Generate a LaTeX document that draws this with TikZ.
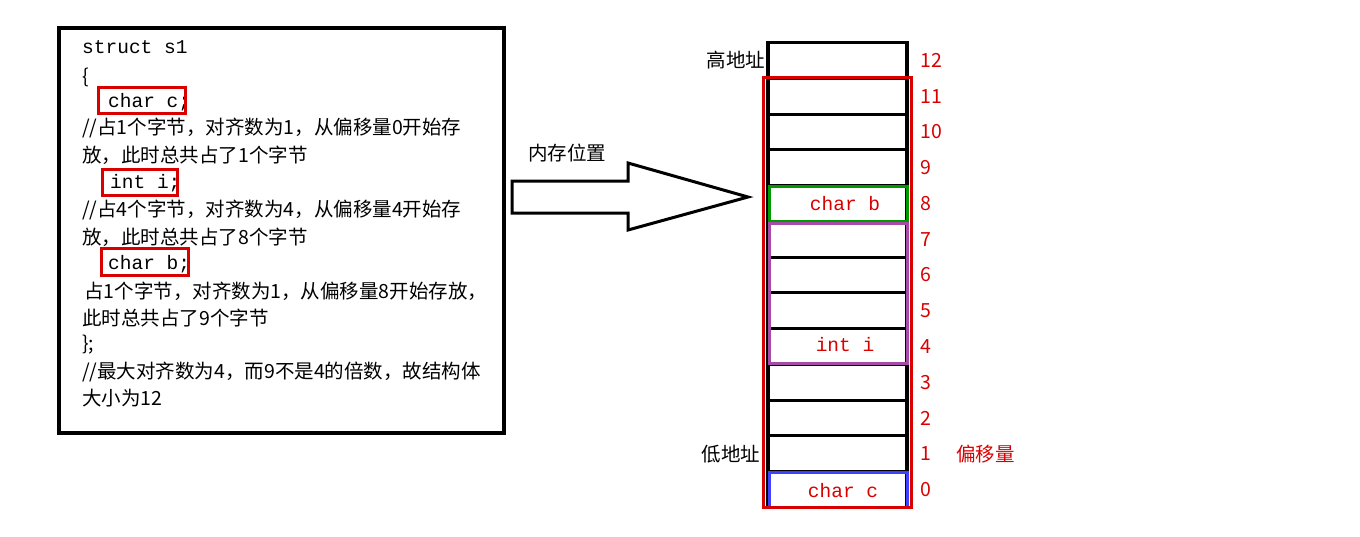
\documentclass[tikz,border=0pt]{standalone}
\usepackage{fontspec}
\newfontfamily\cjk{Noto Sans CJK SC}
\newfontfamily\codefont{Liberation Mono}
\usetikzlibrary{positioning}

\begin{document}
\begin{tikzpicture}[x=1pt, y=-1pt, font=\cjk\fontsize{19.5}{21}\selectfont,
    line/.style={anchor=west, inner sep=0pt},
    mark box/.style={draw=red!85!black, line width=3pt},
    cell/.style={draw, line width=3.2pt, minimum width=139pt, minimum height=35.75pt, inner sep=0pt},
    offset/.style={anchor=west, text=red!85!black, inner sep=0pt}]
      \useasboundingbox (0,0) rectangle (1360,536);

      % code box
      \draw[line width=3.4pt] (59,28) rectangle (504,433);
      \node[line] (L1)  at (82, 47)  {\codefont struct s1};
      \node[line] (L2)  at (82, 77)  {\{};
      \node[line] (L3)  at (108,102) {\codefont char c;};
      \node[line] (L4)  at (82,128)  {//占1个字节，对齐数为1，从偏移量0开始存};
      \node[line] (L5)  at (82,155)  {放，此时总共占了1个字节};
      \node[line] (L6)  at (110,183) {\codefont int i;};
      \node[line] (L7)  at (82,210)  {//占4个字节，对齐数为4，从偏移量4开始存};
      \node[line] (L8)  at (82,237)  {放，此时总共占了8个字节};
      \node[line] (L9)  at (108,264) {\codefont char b;};
      \node[line] (L10) at (84,291)  {占1个字节，对齐数为1，从偏移量8开始存放，};
      \node[line] (L11) at (82,318)  {此时总共占了9个字节};
      \node[line] (L12) at (82,345)  {\};};
      \node[line] (L13) at (82,372)  {//最大对齐数为4，而9不是4的倍数，故结构体};
      \node[line] (L14) at (82,398)  {大小为12};

      \draw[mark box] (98,87)  rectangle (185,113);
      \draw[mark box] (102,169) rectangle (177,195);
      \draw[mark box] (101,248) rectangle (188,275);

      % arrow
      \node (mem) at (567,153) {内存位置};
      \draw[line width=3pt, fill=white] (512,181) -- (628,181) -- (628,163) -- (748,197)
            -- (628,230) -- (628,213) -- (512,213) -- cycle;

      % memory cells
      \foreach \k in {0,...,12}
        \node[cell] (c\k) at (837.5,{489.5-35.75*\k}) {};
      \foreach \k in {0,...,12}
        \node[offset] (n\k) at ([xshift=12pt]c\k.east) {\k};

      \draw[draw=green!60!black, line width=3pt] (769,186) rectangle (907,221);
      \draw[draw=violet!70, line width=3pt] (769,223) rectangle (907,363);
      \draw[draw=blue!75, line width=3pt] (769,472) rectangle (907,507);
      \draw[draw=red!85!black, line width=3pt] (763,77) rectangle (911,507);

      \node[text=red!85!black] (vb) at (845,204) {\codefont char b};
      \node[text=red!85!black] (vi) at (845,345) {\codefont int i};
      \node[text=red!85!black] (vc) at (843,491) {\codefont char c};

      \node[left=1pt of c12.west, inner sep=0pt] (high) {高地址};
      \node[left=6pt of c1.west, inner sep=0pt] (low) {低地址};
      \node[right=24pt of n1.east, inner sep=0pt, text=red!85!black] (offs) {偏移量};
\end{tikzpicture}
\end{document}
